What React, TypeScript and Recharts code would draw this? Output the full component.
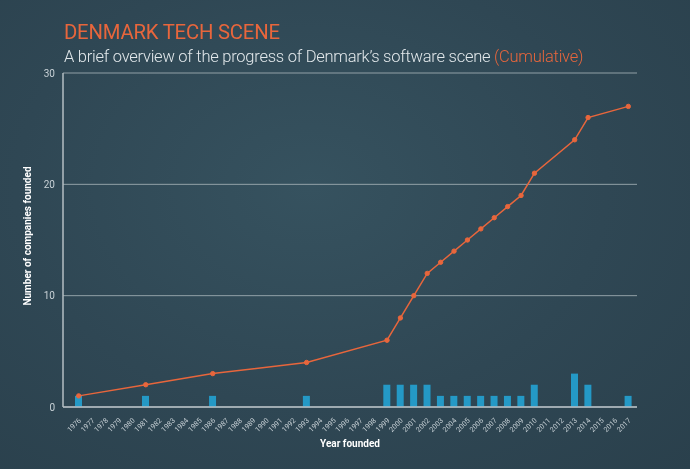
import React from 'react';
import { ComposedChart, Bar, Line, XAxis, YAxis, CartesianGrid } from 'recharts';

const years = [
  1976, 1977, 1978, 1979, 1980, 1981, 1982, 1983, 1984, 1985, 1986, 1987, 1988, 1989,
  1990, 1991, 1992, 1993, 1994, 1995, 1996, 1997, 1998, 1999, 2000, 2001, 2002, 2003,
  2004, 2005, 2006, 2007, 2008, 2009, 2010, 2011, 2012, 2013, 2014, 2015, 2016, 2017,
];

// companies founded per year (bars)
const founded = [
  1, 0, 0, 0, 0, 1, 0, 0, 0, 0, 1, 0, 0, 0,
  0, 0, 0, 1, 0, 0, 0, 0, 0, 2, 2, 2, 2, 1,
  1, 1, 1, 1, 1, 1, 2, 0, 0, 3, 2, 0, 0, 1,
];

// running total, only on years with a founding (line)
const cumulative: (number | null)[] = [
  1, null, null, null, null, 2, null, null, null, null, 3, null, null, null,
  null, null, null, 4, null, null, null, null, null, 6, 8, 10, 12, 13,
  14, 15, 16, 17, 18, 19, 21, null, null, 24, 26, null, null, 27,
];

const yTicks = [0, 10, 20, 30];

const data = years.map((y, i) => ({
  year: String(y),
  founded: founded[i] || null,
  total: cumulative[i],
}));

const ORANGE = '#e8663c';
const BLUE = '#2499c6';
const FONT = 'Roboto, "Open Sans", sans-serif';

const YearTick = (props: any) => {
  const { x, y, payload } = props;
  return (
    <text
      x={x + 3}
      y={y + 6}
      transform={`rotate(-45, ${x + 3}, ${y + 6})`}
      textAnchor="end"
      fontSize={7.2}
      fill="#c9d2d7"
      fontFamily={FONT}
    >
      {payload.value}
    </text>
  );
};

export default function App() {
  return (
    <div
      style={{
        position: 'fixed',
        left: 0,
        top: 0,
        width: 690,
        height: 469,
        background: 'radial-gradient(ellipse at 45% 40%, #36525f 0%, #2f4754 55%, #2a404c 100%)',
        fontFamily: FONT,
        overflow: 'hidden',
      }}
    >
      <div
        style={{
          position: 'absolute',
          left: 64,
          top: 20,
          fontSize: 20.3,
          fontWeight: 400,
          color: ORANGE,
          letterSpacing: -0.2,
          whiteSpace: 'nowrap',
        }}
      >
        DENMARK TECH SCENE
      </div>
      <div
        style={{
          position: 'absolute',
          left: 64,
          top: 46.5,
          fontSize: 16.5,
          fontWeight: 300,
          color: '#e2e8eb',
          letterSpacing: -0.25,
          whiteSpace: 'nowrap',
        }}
      >
        A brief overview of the progress of Denmark’s software scene{' '}
        <span style={{ color: ORANGE }}>(Cumulative)</span>
      </div>
      <div style={{ position: 'absolute', left: 0, top: 0 }}>
        <ComposedChart
          width={690}
          height={469}
          data={data}
          margin={{ top: 73, right: 53, left: 0, bottom: 22 }}
          barSize={7}
        >
          <CartesianGrid vertical={false} stroke="#aab6bc" strokeOpacity={0.8} />
          <XAxis
            dataKey="year"
            interval={0}
            height={40}
            padding={{ left: 9, right: 2 }}
            tick={<YearTick />}
            tickLine={false}
            axisLine={{ stroke: '#b5bec3', strokeWidth: 1.5 }}
            label={{
              content: () => (
                <text
                  x={350}
                  y={447}
                  textAnchor="middle"
                  fontSize={10}
                  fontWeight={700}
                  fill="#ffffff"
                  fontFamily={FONT}
                >
                  Year founded
                </text>
              ),
            }}
          />
          <YAxis
            width={63}
            domain={[0, 30]}
            ticks={yTicks}
            tickLine={false}
            axisLine={{ stroke: '#b5bec3', strokeWidth: 1.5 }}
            tick={{ fontSize: 10, fill: '#c9d2d7', fontFamily: FONT }}
            label={{
              content: () => (
                <text
                  transform="translate(31, 236) rotate(-90)"
                  textAnchor="middle"
                  fontSize={10}
                  fontWeight={700}
                  fill="#ffffff"
                  fontFamily={FONT}
                >
                  Number of companies founded
                </text>
              ),
            }}
          />
          <Bar dataKey="founded" fill={BLUE} isAnimationActive={false} />
          <Line
            dataKey="total"
            type="linear"
            stroke={ORANGE}
            strokeWidth={1.5}
            connectNulls
            dot={{ r: 2.2, fill: ORANGE, stroke: ORANGE, strokeWidth: 1 }}
            activeDot={false}
            isAnimationActive={false}
          />
        </ComposedChart>
      </div>
    </div>
  );
}
